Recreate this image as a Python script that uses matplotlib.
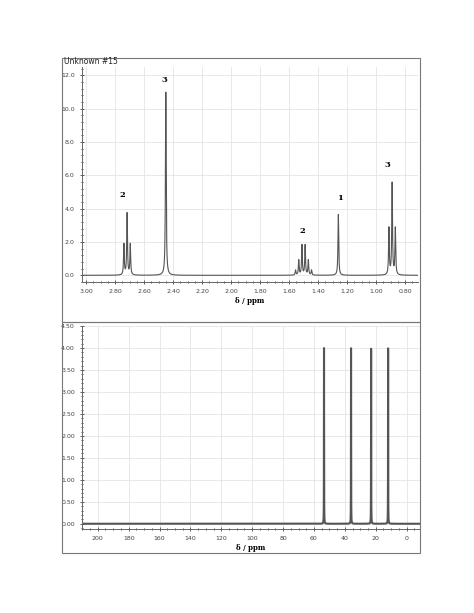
import matplotlib

matplotlib.use("Agg")

import matplotlib.pyplot as plt
import numpy as np
from matplotlib.patches import Rectangle
from matplotlib.ticker import AutoMinorLocator, FormatStrFormatter

# 1H peaks (ppm, intensity)
H_SHIFTS = [2.739, 2.717, 2.695, 2.45, 1.555, 1.533, 1.511, 1.489, 1.467, 1.445, 1.26, 0.911, 0.889, 0.867]
H_HEIGHTS = [1.85, 3.7, 1.85, 11.0, 0.3, 0.9, 1.8, 1.8, 0.9, 0.3, 3.65, 2.8, 5.5, 2.8]
H_LABELS = ["2", "3", "2", "1", "3"]
H_LABEL_POS = [(2.75, 4.6), (2.46, 11.5), (1.51, 2.4), (1.25, 4.4), (0.925, 6.4)]

# 13C peaks
C_SHIFTS = [53.5, 36.0, 23.0, 12.0]
C_HEIGHTS = [4.0, 4.0, 4.0, 4.0]

LINE = "#555555"
GRID = "#e4e4e4"


def spectrum(x, shifts, heights, width):
    y = np.zeros_like(x)
    for s, h in zip(shifts, heights):
        y += h / (1 + ((x - s) / width) ** 2)
    return y


def style_axes(ax):
    ax.grid(True, color=GRID, lw=0.6)
    ax.set_axisbelow(True)
    ax.xaxis.set_minor_locator(AutoMinorLocator(4))
    ax.yaxis.set_minor_locator(AutoMinorLocator(5))
    ax.tick_params(labelsize=4.5, colors="#444444", length=3, width=0.6, direction="inout")
    ax.tick_params(which="minor", length=2, width=0.5, direction="inout")
    for side in ("top", "right"):
        ax.spines[side].set_visible(False)
    for side in ("left", "bottom"):
        ax.spines[side].set_color("#666666")
        ax.spines[side].set_linewidth(0.7)
    ax.set_xlabel("δ / ppm", fontsize=5, family="DejaVu Serif", fontweight="bold", labelpad=2)


fig = plt.figure(figsize=(4.74, 6.13), dpi=100)

# panel frames
for y0, h in [((613 - 322) / 613, (322 - 58) / 613), ((613 - 553) / 613, (553 - 322) / 613)]:
    fig.patches.append(Rectangle((62 / 474, y0), (420 - 62) / 474, h, transform=fig.transFigure,
                                 fill=False, ec="#777777", lw=0.8))
fig.text(64 / 474, 1 - 62 / 613, "Unknown #15", fontsize=5.5, va="center", color="#222222")

ax1 = fig.add_axes([0.1724, 0.540, 0.7096, 0.3507])
x1 = np.linspace(3.03, 0.71, 8000)
ax1.plot(x1, spectrum(x1, H_SHIFTS, H_HEIGHTS, 0.003), color=LINE, lw=0.8)
ax1.set_xlim(3.03, 0.71)
ax1.set_ylim(-0.4, 12.5)
ax1.set_xticks(np.arange(3.0, 0.79, -0.2))
ax1.set_yticks(np.arange(0, 12.1, 2))
ax1.xaxis.set_major_formatter(FormatStrFormatter("%.2f"))
ax1.yaxis.set_major_formatter(FormatStrFormatter("%.1f"))
style_axes(ax1)
for lab, (px, py) in zip(H_LABELS, H_LABEL_POS):
    ax1.text(px, py, lab, ha="center", va="bottom", fontsize=6, family="DejaVu Serif", fontweight="bold")

ax2 = fig.add_axes([0.1724, 0.137, 0.7135, 0.331])
x2 = np.linspace(210.4, -8.6, 20000)
ax2.plot(x2, spectrum(x2, C_SHIFTS, C_HEIGHTS, 0.05), color=LINE, lw=1.5)
ax2.set_xlim(210.4, -8.6)
ax2.set_ylim(-0.12, 4.5)
ax2.set_xticks(np.arange(200, -1, -20))
ax2.set_yticks(np.arange(0, 4.51, 0.5))
ax2.yaxis.set_major_formatter(FormatStrFormatter("%.2f"))
style_axes(ax2)

fig.savefig("out.png", dpi=100)
